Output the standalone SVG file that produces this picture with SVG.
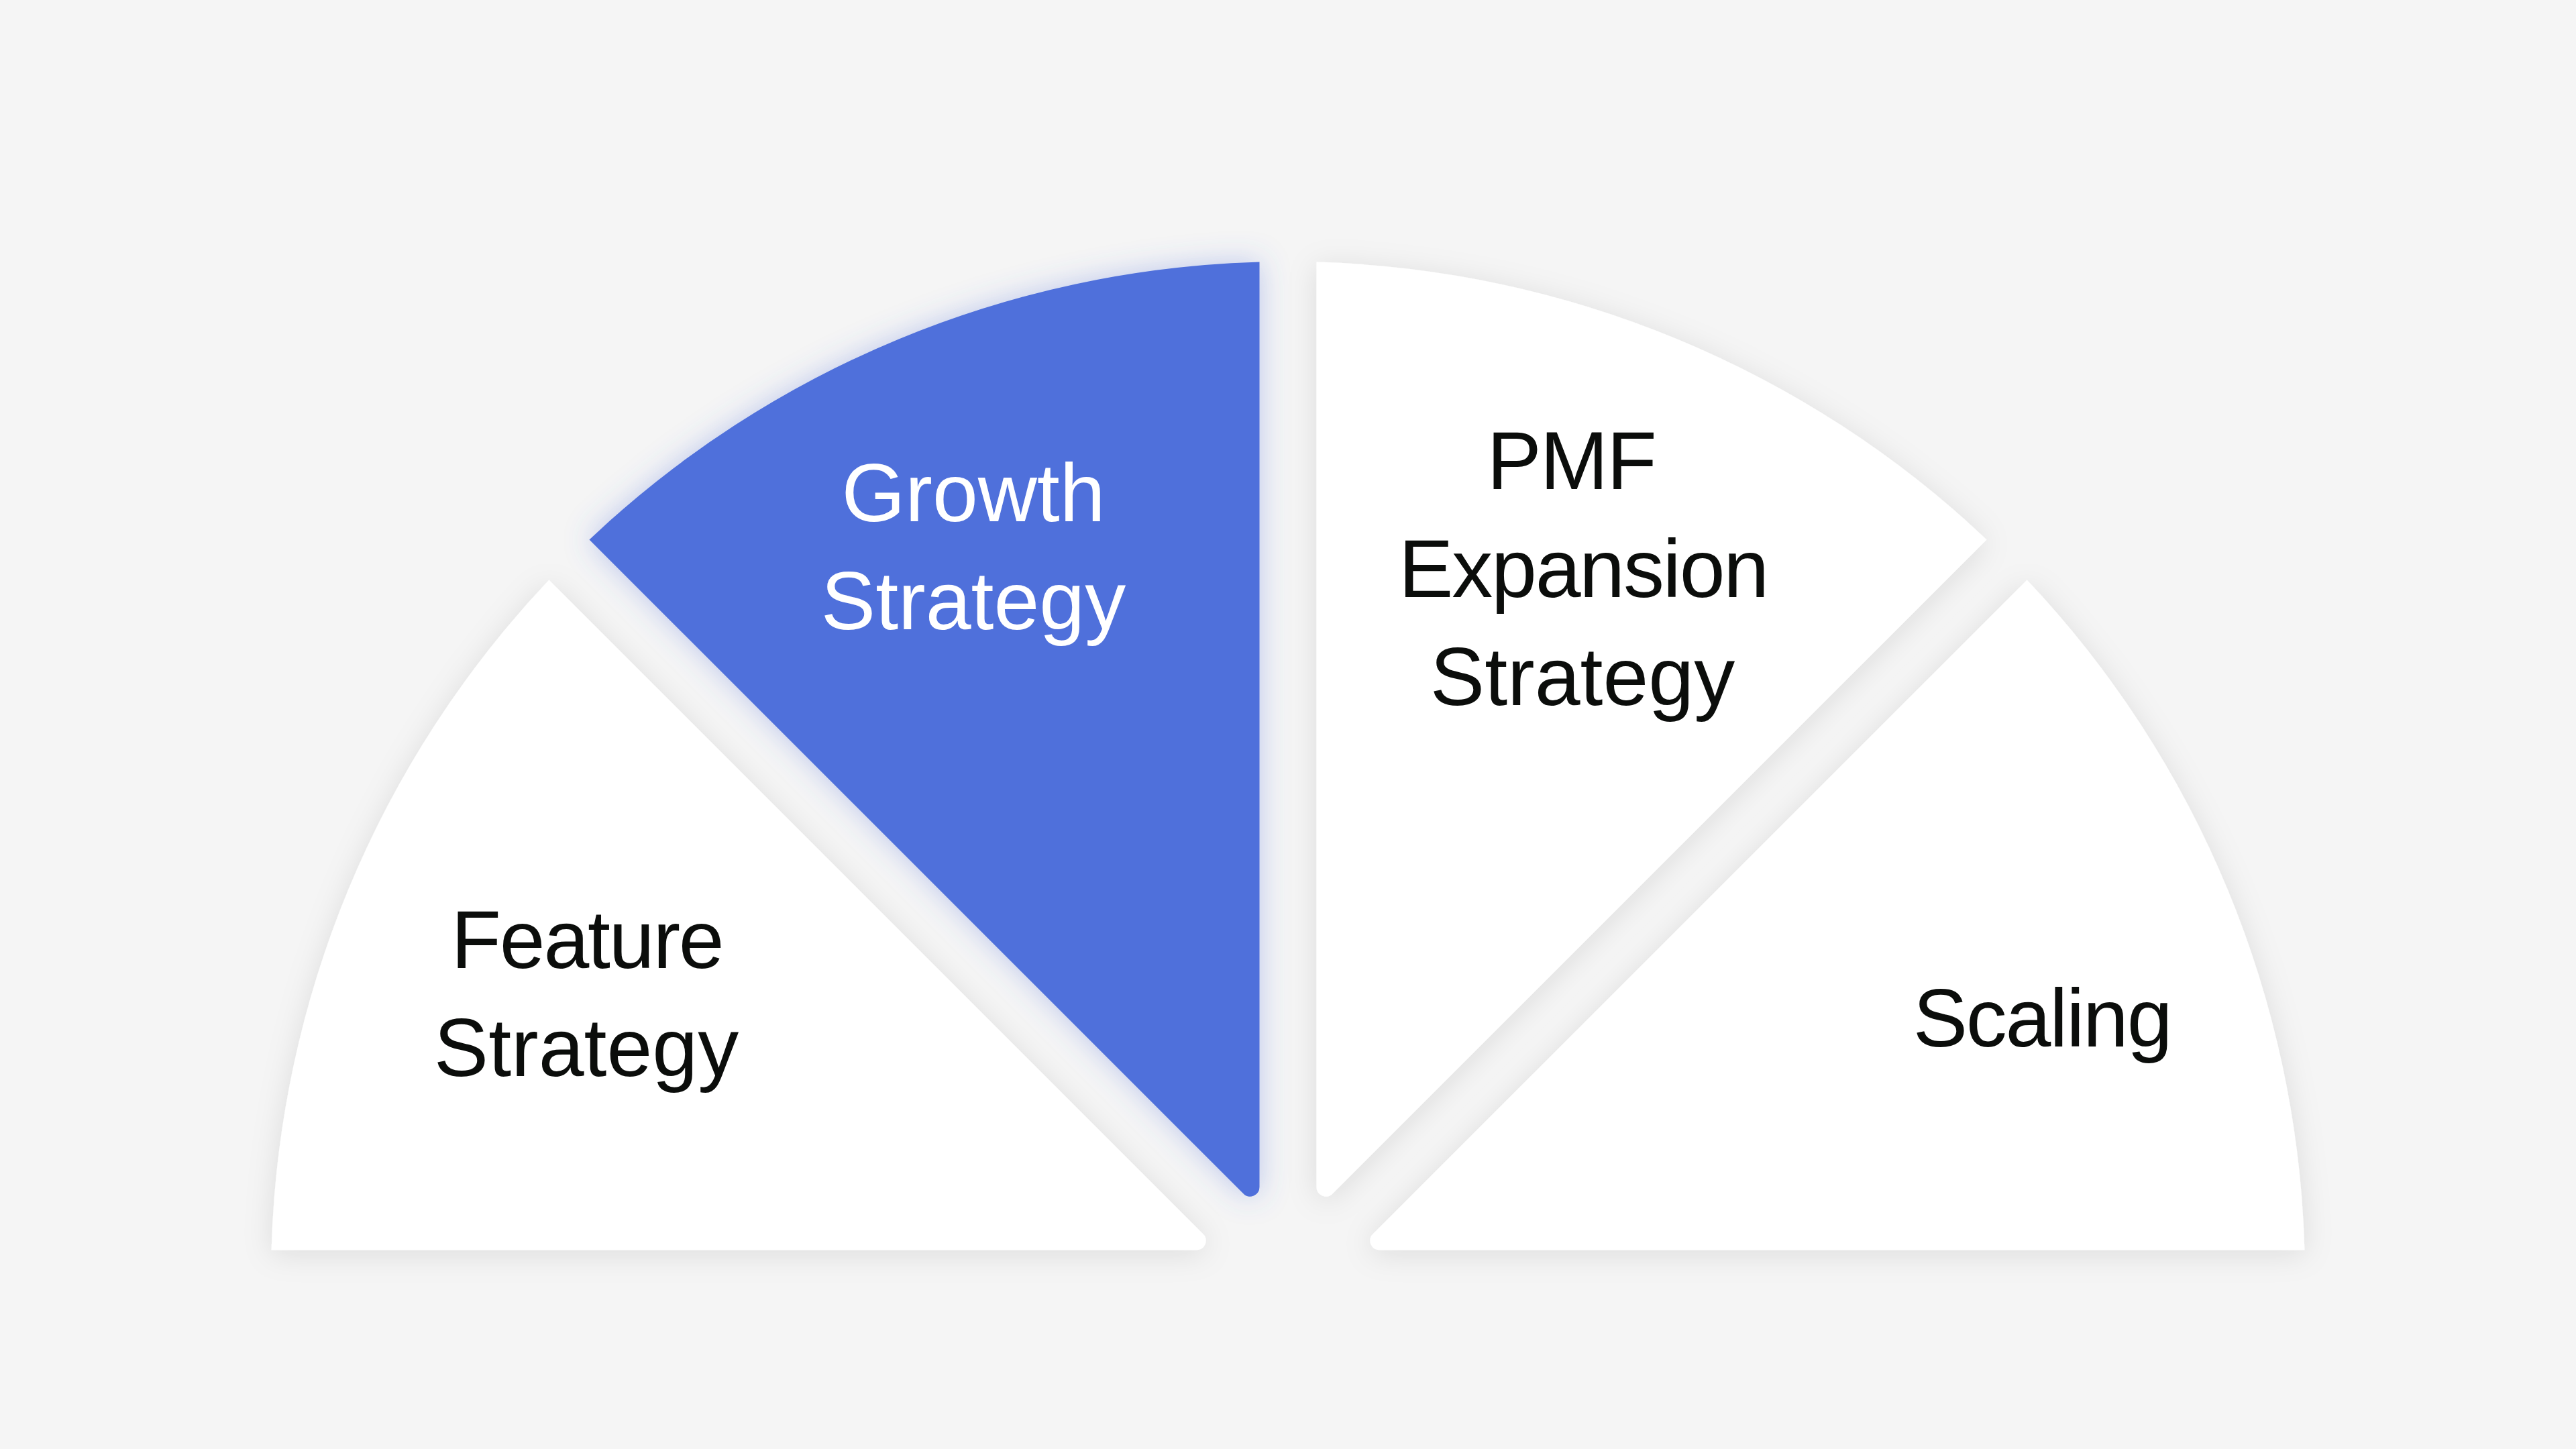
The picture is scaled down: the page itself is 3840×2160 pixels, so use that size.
<svg xmlns="http://www.w3.org/2000/svg" width="3840" height="2160" viewBox="0 0 3840 2160">
  <defs>
    <filter id="shadow" x="-20%" y="-20%" width="140%" height="140%">
      <feDropShadow dx="0" dy="6" stdDeviation="22" flood-color="#000000" flood-opacity="0.1"/>
    </filter>
    <filter id="glow" x="-20%" y="-20%" width="140%" height="140%">
      <feDropShadow dx="0" dy="0" stdDeviation="22" flood-color="#506FDB" flood-opacity="0.35"/>
    </filter>
    <style>
      .card { fill: #FFFFFF; }
      .active { fill: #506FDB; }
      .label { font-family: "Liberation Sans", Arial, sans-serif; font-size: 122px; text-anchor: middle; fill: #0B0D0B; }
      .tight { letter-spacing: -2.2px; }
      .label-on { fill: #FFFFFF; }
    </style>
  </defs>
  <rect x="0" y="0" width="3840" height="2160" fill="#F5F5F5"/>

  <g id="feature-strategy">
    <path class="card" filter="url(#shadow)" d="M1793.49,1839.6 L818.4,864.5 A1516,1516 0 0 0 404.6,1863.5 L1783.59,1863.5 A14,14 0 0 0 1793.49,1839.6 Z"/>
    <text class="label tight" x="875" y="1443">Feature</text>
    <text class="label" x="874" y="1604">Strategy</text>
  </g>

  <g id="growth-strategy">
    <path class="active" filter="url(#glow)" d="M1877.5,1769.6 L1877.5,390.6 A1516,1516 0 0 0 878.5,804.4 L1853.6,1779.5 A14,14 0 0 0 1877.5,1769.6 Z"/>
    <text class="label label-on" x="1451" y="777">Growth</text>
    <text class="label label-on" x="1451" y="938">Strategy</text>
  </g>

  <g id="pmf-expansion-strategy">
    <path class="card" filter="url(#shadow)" d="M1962.5,1769.6 L1962.5,390.6 A1516,1516 0 0 1 2961.5,804.4 L1986.4,1779.5 A14,14 0 0 1 1962.5,1769.6 Z"/>
    <text class="label tight" x="2342" y="729">PMF</text>
    <text class="label tight" x="2360" y="890">Expansion</text>
    <text class="label" x="2359" y="1051">Strategy</text>
  </g>

  <g id="scaling">
    <path class="card" filter="url(#shadow)" d="M2046.51,1839.6 L3021.6,864.5 A1516,1516 0 0 1 3435.4,1863.5 L2056.41,1863.5 A14,14 0 0 1 2046.51,1839.6 Z"/>
    <text class="label tight" x="3044" y="1560">Scaling</text>
  </g>

  <g id="connectors"/>
</svg>
